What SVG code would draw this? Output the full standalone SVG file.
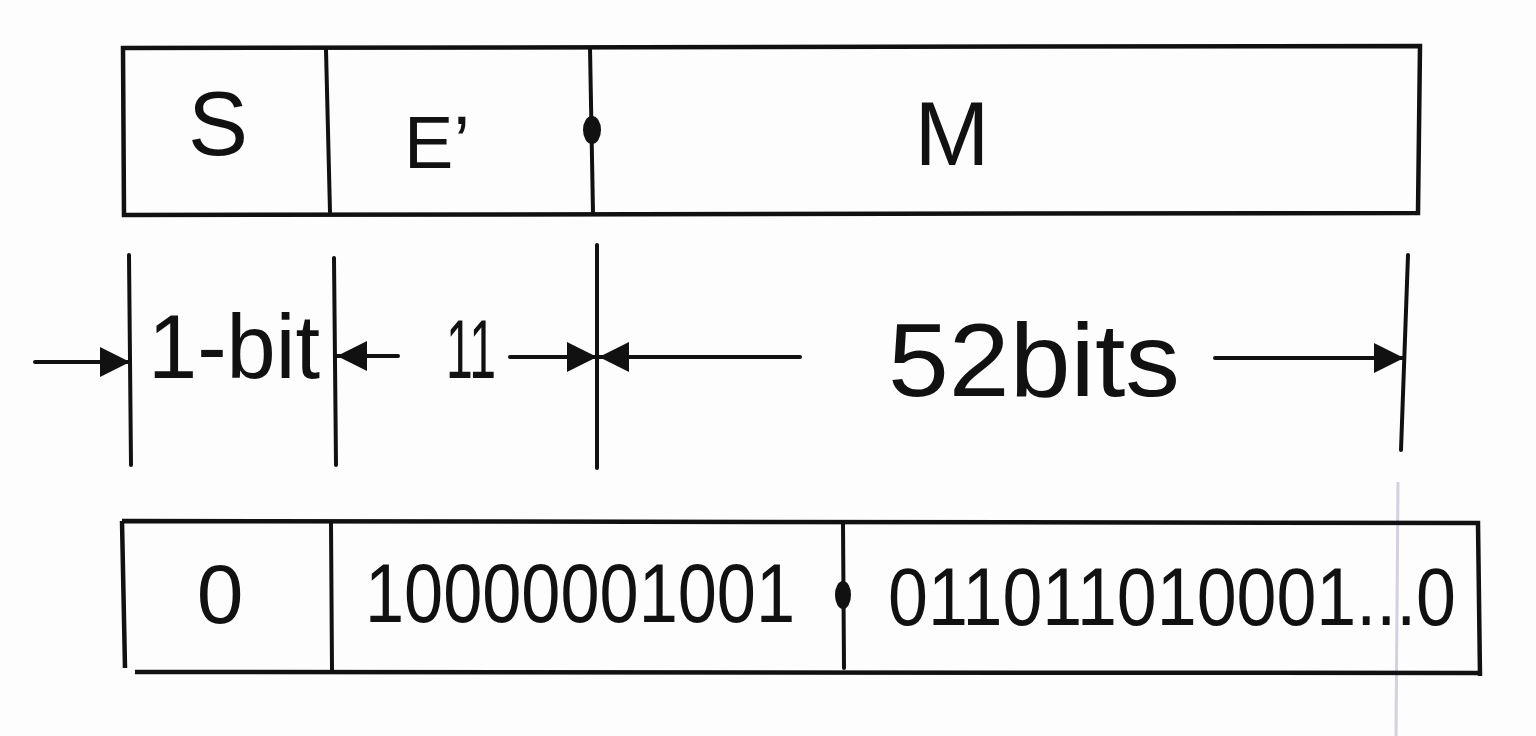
<svg xmlns="http://www.w3.org/2000/svg" width="1536" height="736" viewBox="0 0 1536 736">
  <style>
    .ln { stroke: #111; stroke-width: 4; fill: none; stroke-linecap: round; }
    .box { stroke: #111; stroke-width: 4.5; fill: none; }
    .t { font-family: "Liberation Sans", Arial, sans-serif; fill: #111; }
  </style>
  <defs>
    <marker id="ah" viewBox="0 0 10 10" refX="10" refY="5" markerUnits="userSpaceOnUse" markerWidth="30" markerHeight="42" orient="auto">
      <path d="M0,0 L10,5 L0,10 z" fill="#111"/>
    </marker>
  </defs>
  <rect width="1536" height="736" fill="#fdfdfd"/>

  <g id="top-register">
    <path class="box" d="M123,48 L1420,46 L1418,213 L124,215 Z"/>
    <line class="ln" x1="326" y1="50" x2="330" y2="212"/>
    <line class="ln" x1="590" y1="48" x2="593" y2="213"/>
    <ellipse cx="592" cy="130" rx="9" ry="14" fill="#111"/>
    <text class="t" x="218" y="155" font-size="90" text-anchor="middle">S</text>
    <text class="t" x="437" y="168" font-size="74" text-anchor="middle">E’</text>
    <text class="t" x="952" y="165" font-size="90" text-anchor="middle">M</text>
  </g>

  <g id="bit-widths">
    <line class="ln" x1="129" y1="255" x2="131" y2="465"/>
    <line class="ln" x1="334" y1="258" x2="336" y2="465"/>
    <line class="ln" x1="597" y1="245" x2="597" y2="468"/>
    <line class="ln" x1="1408" y1="255" x2="1401" y2="450"/>
    <text class="t" x="148" y="378" font-size="90" textLength="172" lengthAdjust="spacingAndGlyphs">1-bit</text>
    <text class="t" x="446" y="378" font-size="84" textLength="50" lengthAdjust="spacingAndGlyphs">11</text>
    <text class="t" x="888" y="396" font-size="104" textLength="292" lengthAdjust="spacingAndGlyphs">52bits</text>
  </g>

  <g id="connectors">
    <line class="ln" x1="35" y1="362" x2="130" y2="362" marker-end="url(#ah)"/>
    <line class="ln" x1="398" y1="356" x2="337" y2="356" marker-end="url(#ah)"/>
    <line class="ln" x1="510" y1="357" x2="597" y2="357" marker-end="url(#ah)"/>
    <line class="ln" x1="800" y1="357" x2="599" y2="357" marker-end="url(#ah)"/>
    <line class="ln" x1="1215" y1="358" x2="1404" y2="358" marker-end="url(#ah)"/>
  </g>

  <g id="bottom-register">
    <line x1="1398" y1="482" x2="1396" y2="736" stroke="#d6cfdd" stroke-width="3"/>
    <path class="box" d="M122,521 L1478,523 L1480,676 M1478,673 L135,672 M122,521 L125,668"/>
    <line class="ln" x1="331" y1="523" x2="332" y2="670"/>
    <line class="ln" x1="843" y1="523" x2="844" y2="668"/>
    <ellipse cx="843" cy="595" rx="8" ry="14" fill="#111"/>
    <text class="t" x="220" y="623" font-size="84" text-anchor="middle">0</text>
    <text class="t" x="365" y="622" font-size="84" textLength="430" lengthAdjust="spacingAndGlyphs">10000001001</text>
    <text class="t" x="888" y="625" font-size="82" textLength="568" lengthAdjust="spacingAndGlyphs">011011010001...0</text>
  </g>
</svg>
